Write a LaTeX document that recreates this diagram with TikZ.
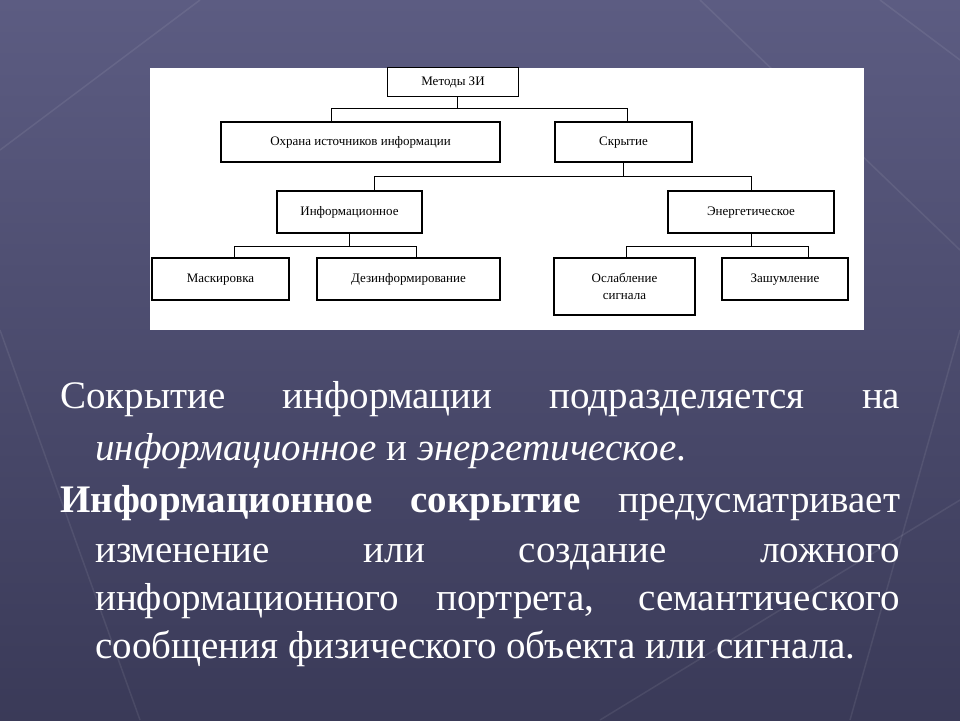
\documentclass[tikz,border=0pt]{standalone}
\usepackage{fontspec}
\setmainfont{Liberation Serif}
\begin{document}
\begin{tikzpicture}[x=1pt,y=1pt,
  bx/.style={draw=black,line width=1.2pt,fill=white,inner sep=0pt,text height=9pt,text depth=3pt,font=\fontsize{13}{15}\selectfont},
  ln/.style={line width=1pt},
  tl/.style={anchor=base west,inner sep=0pt,text=white,font=\fontsize{39}{44}\selectfont}]
\useasboundingbox (0,0) rectangle (960,-720);
\shade[top color={rgb,255:red,92;green,92;blue,130},bottom color={rgb,255:red,58;green,58;blue,88}] (0,0) rectangle (960,-720);
\foreach \a/\b/\c/\d in {0/-150/200/0, 0/-330/140/-720, 880/0/960/-60, 850/-720/960/-330, 600/-720/960/-500, 700/0/960/-250}
  \draw[white,opacity=0.08,line width=1.5pt] (\a,\b) -- (\c,\d);
\fill[white] (150,-68) rectangle (864,-330);
\node[bx,minimum width=131,minimum height=29] (m) at (453,-82) {Методы ЗИ};
\node[bx,minimum width=279,minimum height=40] (o) at (360.5,-142) {Охрана источников информации};
\node[bx,minimum width=137,minimum height=40] (s) at (623.5,-142) {Скрытие};
\node[bx,minimum width=145,minimum height=42] (i) at (349.5,-212) {Информационное};
\node[bx,minimum width=166,minimum height=42] (e) at (751,-212) {Энергетическое};
\node[bx,minimum width=137,minimum height=42] (k) at (220.5,-279) {Маскировка};
\node[bx,minimum width=183,minimum height=42] (d) at (408.5,-279) {Дезинформирование};
\node[bx,minimum width=141,minimum height=57,align=center,text height=,text depth=] (w) at (624.5,-286.5) {Ослабление\\[2pt]сигнала};
\node[bx,minimum width=126,minimum height=42] (z) at (785,-279) {Зашумление};
\coordinate (j1) at (457,-108);
\coordinate (j2) at (623.5,-176);
\coordinate (j3) at (349.5,-246);
\coordinate (j4) at (751,-246);
\draw[ln] (m.south -| j1) -- (j1);
\draw[ln] (331,-108) -- (627,-108);
\draw[ln] (331,-108) -- (o.north -| 331,0);
\draw[ln] (627,-108) -- (s.north -| 627,0);
\draw[ln] (s.south) -- (j2);
\draw[ln] (374,-176) -- (751,-176);
\draw[ln] (374,-176) -- (i.north -| 374,0);
\draw[ln] (751,-176) -- (e.north);
\draw[ln] (i.south) -- (j3);
\draw[ln] (234,-246) -- (416,-246);
\draw[ln] (234,-246) -- (k.north -| 234,0);
\draw[ln] (416,-246) -- (d.north -| 416,0);
\draw[ln] (e.south) -- (j4);
\draw[ln] (626,-246) -- (808,-246);
\draw[ln] (626,-246) -- (w.north -| 626,0);
\draw[ln] (808,-246) -- (z.north -| 808,0);
\node[tl] (t1) at (60,-408) {\makebox[840pt][s]{Сокрытие информации подразделяется на}};
\node[tl] (t2) at (95,-460) {\textit{информационное} и \textit{энергетическое}.};
\node[tl] (t3) at (60,-512) {\makebox[840pt][s]{\textbf{Информационное сокрытие} предусматривает}};
\node[tl] (t4) at (95,-562) {\makebox[805pt][s]{изменение или создание ложного}};
\node[tl] (t5) at (95,-610) {\makebox[805pt][s]{информационного портрета, семантического}};
\node[tl] (t6) at (95,-658) {сообщения физического объекта или сигнала.};
\end{tikzpicture}
\end{document}
